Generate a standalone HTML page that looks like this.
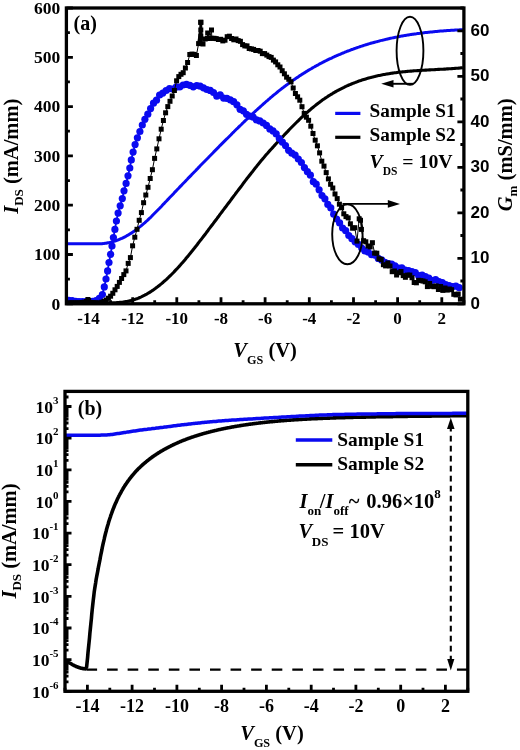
<!DOCTYPE html>
<html><head><meta charset="utf-8"><title>IDS and Gm vs VGS</title><style>html,body{margin:0;padding:0;background:#fff;overflow:hidden}svg{display:block}</style></head><body>
<svg width="520" height="750" viewBox="0 0 520 750">
<rect width="520" height="750" fill="#fff"/>
<defs><clipPath id="ca"><rect x="66.4" y="8.0" width="397.5" height="295.8"/></clipPath>
<clipPath id="cb"><rect x="65.0" y="391.4" width="402.8" height="299.9"/></clipPath></defs>
<g clip-path="url(#ca)">
<polyline points="67.4,243.8 68.4,243.8 69.4,243.8 70.4,243.8 71.4,243.8 72.4,243.8 73.3,243.8 74.3,243.8 75.3,243.8 76.3,243.8 77.3,243.8 78.3,243.8 79.3,243.8 80.3,243.8 81.3,243.8 82.3,243.8 83.3,243.8 84.3,243.8 85.2,243.8 86.2,243.8 87.2,243.8 88.2,243.8 89.2,243.8 90.2,243.8 91.2,243.8 92.2,243.8 93.2,243.8 94.2,243.8 95.2,243.8 96.1,243.8 97.1,243.8 98.1,243.8 99.1,243.8 100.1,243.8 101.1,243.8 102.1,243.7 103.1,243.6 104.1,243.4 105.1,243.3 106.1,243.2 107.0,243.0 108.0,242.8 109.0,242.6 110.0,242.4 111.0,242.2 112.0,241.9 113.0,241.6 114.0,241.3 115.0,241.0 116.0,240.7 117.0,240.3 118.0,240.0 118.9,239.6 119.9,239.2 120.9,238.7 121.9,238.3 122.9,237.8 123.9,237.3 124.9,236.8 125.9,236.3 126.9,235.7 127.9,235.2 128.9,234.6 129.8,234.0 130.8,233.4 131.8,232.7 132.8,232.1 133.8,231.4 134.8,230.7 135.8,230.0 136.8,229.2 137.8,228.5 138.8,227.7 139.8,226.9 140.8,226.1 141.7,225.3 142.7,224.5 143.7,223.6 144.7,222.8 145.7,221.9 146.7,221.0 147.7,220.1 148.7,219.1 149.7,218.2 150.7,217.3 151.7,216.3 152.6,215.3 153.6,214.3 154.6,213.3 155.6,212.3 156.6,211.3 157.6,210.3 158.6,209.3 159.6,208.3 160.6,207.2 161.6,206.2 162.6,205.1 163.5,204.1 164.5,203.1 165.5,202.0 166.5,201.0 167.5,199.9 168.5,198.9 169.5,197.8 170.5,196.8 171.5,195.8 172.5,194.7 173.5,193.7 174.5,192.6 175.4,191.6 176.4,190.6 177.4,189.5 178.4,188.5 179.4,187.4 180.4,186.4 181.4,185.4 182.4,184.3 183.4,183.3 184.4,182.3 185.4,181.2 186.3,180.2 187.3,179.2 188.3,178.1 189.3,177.1 190.3,176.1 191.3,175.1 192.3,174.0 193.3,173.0 194.3,172.0 195.3,171.0 196.3,169.9 197.3,168.9 198.2,167.9 199.2,166.9 200.2,165.8 201.2,164.8 202.2,163.8 203.2,162.8 204.2,161.8 205.2,160.7 206.2,159.7 207.2,158.7 208.2,157.7 209.1,156.7 210.1,155.7 211.1,154.7 212.1,153.7 213.1,152.7 214.1,151.6 215.1,150.6 216.1,149.6 217.1,148.6 218.1,147.6 219.1,146.6 220.0,145.6 221.0,144.6 222.0,143.6 223.0,142.6 224.0,141.6 225.0,140.6 226.0,139.6 227.0,138.7 228.0,137.7 229.0,136.7 230.0,135.7 231.0,134.7 231.9,133.7 232.9,132.7 233.9,131.8 234.9,130.8 235.9,129.8 236.9,128.8 237.9,127.9 238.9,126.9 239.9,125.9 240.9,125.0 241.9,124.0 242.8,123.0 243.8,122.1 244.8,121.1 245.8,120.2 246.8,119.2 247.8,118.3 248.8,117.3 249.8,116.4 250.8,115.5 251.8,114.5 252.8,113.6 253.8,112.7 254.7,111.8 255.7,110.9 256.7,110.0 257.7,109.1 258.7,108.2 259.7,107.3 260.7,106.4 261.7,105.5 262.7,104.6 263.7,103.7 264.7,102.8 265.6,102.0 266.6,101.1 267.6,100.3 268.6,99.4 269.6,98.6 270.6,97.7 271.6,96.9 272.6,96.0 273.6,95.2 274.6,94.4 275.6,93.6 276.5,92.8 277.5,92.0 278.5,91.2 279.5,90.4 280.5,89.6 281.5,88.8 282.5,88.1 283.5,87.3 284.5,86.6 285.5,85.8 286.5,85.1 287.5,84.3 288.4,83.6 289.4,82.9 290.4,82.2 291.4,81.5 292.4,80.8 293.4,80.1 294.4,79.4 295.4,78.7 296.4,78.0 297.4,77.4 298.4,76.7 299.3,76.0 300.3,75.4 301.3,74.7 302.3,74.1 303.3,73.5 304.3,72.9 305.3,72.2 306.3,71.6 307.3,71.0 308.3,70.4 309.3,69.8 310.3,69.2 311.2,68.7 312.2,68.1 313.2,67.5 314.2,67.0 315.2,66.4 316.2,65.9 317.2,65.3 318.2,64.8 319.2,64.2 320.2,63.7 321.2,63.2 322.1,62.7 323.1,62.2 324.1,61.6 325.1,61.1 326.1,60.7 327.1,60.2 328.1,59.7 329.1,59.2 330.1,58.7 331.1,58.3 332.1,57.8 333.0,57.3 334.0,56.9 335.0,56.4 336.0,56.0 337.0,55.5 338.0,55.1 339.0,54.7 340.0,54.3 341.0,53.8 342.0,53.4 343.0,53.0 344.0,52.6 344.9,52.2 345.9,51.8 346.9,51.4 347.9,51.0 348.9,50.7 349.9,50.3 350.9,49.9 351.9,49.5 352.9,49.2 353.9,48.8 354.9,48.5 355.8,48.1 356.8,47.8 357.8,47.4 358.8,47.1 359.8,46.7 360.8,46.4 361.8,46.1 362.8,45.8 363.8,45.4 364.8,45.1 365.8,44.8 366.8,44.5 367.7,44.2 368.7,43.9 369.7,43.6 370.7,43.3 371.7,43.0 372.7,42.8 373.7,42.5 374.7,42.2 375.7,41.9 376.7,41.7 377.7,41.4 378.6,41.2 379.6,40.9 380.6,40.6 381.6,40.4 382.6,40.2 383.6,39.9 384.6,39.7 385.6,39.4 386.6,39.2 387.6,39.0 388.6,38.8 389.5,38.5 390.5,38.3 391.5,38.1 392.5,37.9 393.5,37.7 394.5,37.5 395.5,37.3 396.5,37.1 397.5,36.9 398.5,36.7 399.5,36.5 400.5,36.3 401.4,36.1 402.4,36.0 403.4,35.8 404.4,35.6 405.4,35.5 406.4,35.3 407.4,35.1 408.4,35.0 409.4,34.8 410.4,34.6 411.4,34.5 412.3,34.3 413.3,34.2 414.3,34.0 415.3,33.9 416.3,33.8 417.3,33.6 418.3,33.5 419.3,33.4 420.3,33.2 421.3,33.1 422.3,33.0 423.3,32.9 424.2,32.7 425.2,32.6 426.2,32.5 427.2,32.4 428.2,32.3 429.2,32.2 430.2,32.1 431.2,32.0 432.2,31.9 433.2,31.8 434.2,31.7 435.1,31.6 436.1,31.5 437.1,31.4 438.1,31.3 439.1,31.2 440.1,31.1 441.1,31.1 442.1,31.0 443.1,30.9 444.1,30.8 445.1,30.7 446.0,30.7 447.0,30.6 448.0,30.5 449.0,30.5 450.0,30.4 451.0,30.3 452.0,30.3 453.0,30.2 454.0,30.2 455.0,30.1 456.0,30.0 457.0,30.0 457.9,29.9 458.9,29.9 459.9,29.8 460.9,29.8 461.9,29.7 462.9,29.7" fill="none" stroke="#0a0af0" stroke-width="3.0" stroke-linejoin="round"/>
<polyline points="67.4,303.3 68.4,303.3 69.4,303.3 70.4,303.3 71.4,303.3 72.4,303.3 73.3,303.3 74.3,303.3 75.3,303.3 76.3,303.3 77.3,303.3 78.3,303.3 79.3,303.3 80.3,303.3 81.3,303.3 82.3,303.3 83.3,303.3 84.3,303.3 85.2,303.3 86.2,303.3 87.2,303.3 88.2,303.3 89.2,303.3 90.2,303.3 91.2,303.3 92.2,303.3 93.2,303.3 94.2,303.3 95.2,303.3 96.1,303.3 97.1,303.3 98.1,303.3 99.1,303.3 100.1,303.2 101.1,303.1 102.1,303.1 103.1,303.1 104.1,303.1 105.1,303.1 106.1,303.1 107.0,303.0 108.0,303.0 109.0,303.0 110.0,302.9 111.0,302.9 112.0,302.9 113.0,302.8 114.0,302.8 115.0,302.7 116.0,302.7 117.0,302.6 118.0,302.6 118.9,302.5 119.9,302.4 120.9,302.3 121.9,302.2 122.9,302.1 123.9,301.9 124.9,301.8 125.9,301.6 126.9,301.5 127.9,301.3 128.9,301.1 129.8,300.8 130.8,300.6 131.8,300.3 132.8,300.1 133.8,299.8 134.8,299.4 135.8,299.1 136.8,298.7 137.8,298.4 138.8,298.0 139.8,297.5 140.8,297.1 141.7,296.7 142.7,296.2 143.7,295.7 144.7,295.2 145.7,294.6 146.7,294.1 147.7,293.5 148.7,292.9 149.7,292.3 150.7,291.7 151.7,291.0 152.6,290.4 153.6,289.7 154.6,289.0 155.6,288.3 156.6,287.5 157.6,286.8 158.6,286.0 159.6,285.2 160.6,284.4 161.6,283.6 162.6,282.8 163.5,281.9 164.5,281.0 165.5,280.2 166.5,279.3 167.5,278.3 168.5,277.4 169.5,276.4 170.5,275.5 171.5,274.5 172.5,273.5 173.5,272.5 174.5,271.4 175.4,270.4 176.4,269.3 177.4,268.3 178.4,267.2 179.4,266.1 180.4,265.0 181.4,263.8 182.4,262.7 183.4,261.6 184.4,260.4 185.4,259.2 186.3,258.0 187.3,256.9 188.3,255.7 189.3,254.4 190.3,253.2 191.3,252.0 192.3,250.8 193.3,249.5 194.3,248.3 195.3,247.0 196.3,245.8 197.3,244.5 198.2,243.2 199.2,241.9 200.2,240.6 201.2,239.4 202.2,238.1 203.2,236.8 204.2,235.5 205.2,234.2 206.2,232.9 207.2,231.5 208.2,230.2 209.1,228.9 210.1,227.6 211.1,226.3 212.1,225.0 213.1,223.7 214.1,222.3 215.1,221.0 216.1,219.7 217.1,218.4 218.1,217.0 219.1,215.7 220.0,214.4 221.0,213.1 222.0,211.8 223.0,210.4 224.0,209.1 225.0,207.8 226.0,206.5 227.0,205.1 228.0,203.8 229.0,202.5 230.0,201.2 231.0,199.8 231.9,198.5 232.9,197.2 233.9,195.9 234.9,194.6 235.9,193.2 236.9,191.9 237.9,190.6 238.9,189.3 239.9,188.0 240.9,186.7 241.9,185.4 242.8,184.1 243.8,182.7 244.8,181.4 245.8,180.1 246.8,178.8 247.8,177.6 248.8,176.3 249.8,175.0 250.8,173.7 251.8,172.4 252.8,171.2 253.8,169.9 254.7,168.7 255.7,167.4 256.7,166.2 257.7,164.9 258.7,163.7 259.7,162.5 260.7,161.3 261.7,160.1 262.7,158.9 263.7,157.8 264.7,156.6 265.6,155.4 266.6,154.3 267.6,153.2 268.6,152.0 269.6,150.9 270.6,149.8 271.6,148.7 272.6,147.6 273.6,146.5 274.6,145.4 275.6,144.3 276.5,143.3 277.5,142.2 278.5,141.1 279.5,140.0 280.5,139.0 281.5,137.9 282.5,136.8 283.5,135.8 284.5,134.7 285.5,133.7 286.5,132.6 287.5,131.6 288.4,130.6 289.4,129.5 290.4,128.5 291.4,127.5 292.4,126.5 293.4,125.5 294.4,124.5 295.4,123.5 296.4,122.5 297.4,121.5 298.4,120.6 299.3,119.6 300.3,118.7 301.3,117.7 302.3,116.8 303.3,115.9 304.3,115.0 305.3,114.0 306.3,113.1 307.3,112.3 308.3,111.4 309.3,110.5 310.3,109.7 311.2,108.8 312.2,108.0 313.2,107.2 314.2,106.4 315.2,105.6 316.2,104.8 317.2,104.0 318.2,103.2 319.2,102.5 320.2,101.7 321.2,101.0 322.1,100.3 323.1,99.6 324.1,98.9 325.1,98.2 326.1,97.6 327.1,96.9 328.1,96.2 329.1,95.6 330.1,95.0 331.1,94.4 332.1,93.8 333.0,93.2 334.0,92.6 335.0,92.0 336.0,91.5 337.0,90.9 338.0,90.4 339.0,89.8 340.0,89.3 341.0,88.8 342.0,88.3 343.0,87.8 344.0,87.3 344.9,86.8 345.9,86.4 346.9,85.9 347.9,85.5 348.9,85.0 349.9,84.6 350.9,84.2 351.9,83.8 352.9,83.4 353.9,83.0 354.9,82.6 355.8,82.2 356.8,81.9 357.8,81.5 358.8,81.1 359.8,80.8 360.8,80.5 361.8,80.1 362.8,79.8 363.8,79.5 364.8,79.2 365.8,78.9 366.8,78.6 367.7,78.3 368.7,78.0 369.7,77.7 370.7,77.5 371.7,77.2 372.7,77.0 373.7,76.7 374.7,76.5 375.7,76.2 376.7,76.0 377.7,75.8 378.6,75.6 379.6,75.4 380.6,75.2 381.6,75.0 382.6,74.8 383.6,74.6 384.6,74.4 385.6,74.2 386.6,74.0 387.6,73.9 388.6,73.7 389.5,73.6 390.5,73.4 391.5,73.3 392.5,73.1 393.5,73.0 394.5,72.8 395.5,72.7 396.5,72.6 397.5,72.4 398.5,72.3 399.5,72.2 400.5,72.1 401.4,72.0 402.4,71.9 403.4,71.8 404.4,71.7 405.4,71.6 406.4,71.5 407.4,71.4 408.4,71.3 409.4,71.2 410.4,71.1 411.4,71.1 412.3,71.0 413.3,70.9 414.3,70.8 415.3,70.8 416.3,70.7 417.3,70.6 418.3,70.6 419.3,70.5 420.3,70.4 421.3,70.4 422.3,70.3 423.3,70.2 424.2,70.2 425.2,70.1 426.2,70.1 427.2,70.0 428.2,70.0 429.2,69.9 430.2,69.9 431.2,69.8 432.2,69.8 433.2,69.7 434.2,69.7 435.1,69.6 436.1,69.5 437.1,69.5 438.1,69.4 439.1,69.4 440.1,69.3 441.1,69.3 442.1,69.2 443.1,69.2 444.1,69.1 445.1,69.1 446.0,69.0 447.0,68.9 448.0,68.9 449.0,68.8 450.0,68.8 451.0,68.7 452.0,68.6 453.0,68.5 454.0,68.5 455.0,68.4 456.0,68.3 457.0,68.2 457.9,68.2 458.9,68.1 459.9,68.0 460.9,67.9 461.9,67.8 462.9,67.7" fill="none" stroke="#000" stroke-width="3.1" stroke-linejoin="round"/>
<polyline points="68.8,300.4 72.2,300.7 75.6,301.4 79.0,301.5 82.4,301.5 85.8,301.5 89.2,301.5 92.6,301.4 96.0,300.6 99.3,298.3 102.4,294.5 104.3,286.9 106.0,279.0 107.6,270.9 109.0,262.5 110.6,254.3 112.0,246.0 113.4,237.6 114.9,229.4 116.4,221.0 118.1,213.1 120.2,205.8 122.3,198.6 124.0,190.8 126.1,183.4 128.0,175.8 129.8,168.0 131.3,159.9 133.1,152.1 135.1,144.6 137.4,137.8 139.9,131.5 142.3,125.0 144.9,119.3 147.8,114.2 150.6,109.1 153.5,104.1 156.5,99.8 159.6,96.1 162.8,93.0 166.1,90.9 169.5,89.7 172.9,89.0 176.3,88.1 179.7,87.2 183.1,86.2 186.5,85.5 189.9,85.5 193.3,85.9 196.7,86.5 200.1,87.0 203.5,87.4 206.9,88.3 210.2,90.2 213.5,92.8 216.8,94.9 220.2,96.1 223.6,97.2 226.9,98.9 230.3,100.7 233.6,102.7 236.9,105.3 240.1,108.4 243.3,111.6 246.5,114.1 249.9,115.8 253.2,117.6 256.5,119.7 259.8,122.1 263.2,124.2 266.5,126.2 269.8,128.5 273.0,131.1 276.2,134.4 279.3,138.3 282.4,142.3 285.5,146.1 288.6,149.5 291.8,152.7 295.1,155.7 298.3,158.8 301.4,162.4 304.4,166.6 307.4,171.1 310.4,175.7 313.3,180.4 316.2,185.2 319.1,190.1 322.0,194.9 324.9,199.7 327.8,204.4 330.8,209.1 333.7,213.8 336.6,218.3 339.6,222.8 342.6,227.1 345.7,231.2 348.8,235.0 351.9,238.5 355.1,241.6 358.4,244.5 361.7,247.2 364.9,249.8 368.2,252.2 371.6,254.3 374.9,256.2 378.3,257.9 381.6,259.5 385.0,261.1 388.3,262.8 391.7,264.5 395.0,266.2 398.4,267.7 401.8,269.1 405.2,270.3 408.5,271.5 411.9,272.6 415.3,273.8 418.7,275.0 422.1,276.2 425.4,277.3 428.8,278.5 432.2,279.6 435.6,280.6 439.0,281.6 442.3,282.6 445.7,283.6 449.1,284.6 452.5,285.7 455.9,286.8 459.2,287.9" fill="none" stroke="#0a0af0" stroke-width="1.8"/>
<g fill="#0a0af0"><circle cx="68.8" cy="300.4" r="3.6"/><circle cx="72.2" cy="300.7" r="3.6"/><circle cx="75.6" cy="301.4" r="3.6"/><circle cx="79.0" cy="301.5" r="3.6"/><circle cx="82.4" cy="301.5" r="3.6"/><circle cx="85.8" cy="301.5" r="3.6"/><circle cx="89.2" cy="301.5" r="3.6"/><circle cx="92.6" cy="301.4" r="3.6"/><circle cx="96.0" cy="300.6" r="3.6"/><circle cx="99.3" cy="298.3" r="3.6"/><circle cx="102.4" cy="294.5" r="3.6"/><circle cx="104.3" cy="286.9" r="3.6"/><circle cx="106.0" cy="279.0" r="3.6"/><circle cx="107.6" cy="270.9" r="3.6"/><circle cx="109.0" cy="262.5" r="3.6"/><circle cx="110.6" cy="254.3" r="3.6"/><circle cx="112.0" cy="246.0" r="3.6"/><circle cx="113.4" cy="237.6" r="3.6"/><circle cx="114.9" cy="229.4" r="3.6"/><circle cx="116.4" cy="221.0" r="3.6"/><circle cx="118.1" cy="213.1" r="3.6"/><circle cx="120.2" cy="205.8" r="3.6"/><circle cx="122.3" cy="198.6" r="3.6"/><circle cx="124.0" cy="190.8" r="3.6"/><circle cx="126.1" cy="183.4" r="3.6"/><circle cx="128.0" cy="175.8" r="3.6"/><circle cx="129.8" cy="168.0" r="3.6"/><circle cx="131.3" cy="159.9" r="3.6"/><circle cx="133.1" cy="152.1" r="3.6"/><circle cx="135.1" cy="144.6" r="3.6"/><circle cx="137.4" cy="137.8" r="3.6"/><circle cx="139.9" cy="131.5" r="3.6"/><circle cx="142.3" cy="125.0" r="3.6"/><circle cx="144.9" cy="119.3" r="3.6"/><circle cx="147.8" cy="114.2" r="3.6"/><circle cx="150.6" cy="108.6" r="3.6"/><circle cx="153.5" cy="103.2" r="3.6"/><circle cx="156.5" cy="100.2" r="3.6"/><circle cx="159.6" cy="95.0" r="3.6"/><circle cx="162.8" cy="93.1" r="3.6"/><circle cx="166.1" cy="90.5" r="3.6"/><circle cx="169.5" cy="88.6" r="3.6"/><circle cx="172.9" cy="89.0" r="3.6"/><circle cx="176.3" cy="86.9" r="3.6"/><circle cx="179.7" cy="87.0" r="3.6"/><circle cx="183.1" cy="85.0" r="3.6"/><circle cx="186.5" cy="84.4" r="3.6"/><circle cx="189.9" cy="85.3" r="3.6"/><circle cx="193.3" cy="86.8" r="3.6"/><circle cx="196.7" cy="85.5" r="3.6"/><circle cx="200.1" cy="86.2" r="3.6"/><circle cx="203.5" cy="87.8" r="3.6"/><circle cx="206.9" cy="89.5" r="3.6"/><circle cx="210.2" cy="90.4" r="3.6"/><circle cx="213.5" cy="92.5" r="3.6"/><circle cx="216.8" cy="96.2" r="3.6"/><circle cx="220.2" cy="94.9" r="3.6"/><circle cx="223.6" cy="98.1" r="3.6"/><circle cx="226.9" cy="98.3" r="3.6"/><circle cx="230.3" cy="99.8" r="3.6"/><circle cx="233.6" cy="101.7" r="3.6"/><circle cx="236.9" cy="104.8" r="3.6"/><circle cx="240.1" cy="109.3" r="3.6"/><circle cx="243.3" cy="110.8" r="3.6"/><circle cx="246.5" cy="114.3" r="3.6"/><circle cx="249.9" cy="116.2" r="3.6"/><circle cx="253.2" cy="117.2" r="3.6"/><circle cx="256.5" cy="119.9" r="3.6"/><circle cx="259.8" cy="120.9" r="3.6"/><circle cx="263.2" cy="123.0" r="3.6"/><circle cx="266.5" cy="125.4" r="3.6"/><circle cx="269.8" cy="128.9" r="3.6"/><circle cx="273.0" cy="130.9" r="3.6"/><circle cx="276.2" cy="133.9" r="3.6"/><circle cx="279.3" cy="138.5" r="3.6"/><circle cx="282.4" cy="142.2" r="3.6"/><circle cx="285.5" cy="145.6" r="3.6"/><circle cx="288.6" cy="150.3" r="3.6"/><circle cx="291.8" cy="153.2" r="3.6"/><circle cx="295.1" cy="155.1" r="3.6"/><circle cx="298.3" cy="159.0" r="3.6"/><circle cx="301.4" cy="162.5" r="3.6"/><circle cx="304.4" cy="167.6" r="3.6"/><circle cx="307.4" cy="171.7" r="3.6"/><circle cx="310.4" cy="175.2" r="3.6"/><circle cx="313.3" cy="181.7" r="3.6"/><circle cx="316.2" cy="184.2" r="3.6"/><circle cx="319.1" cy="189.8" r="3.6"/><circle cx="322.0" cy="195.5" r="3.6"/><circle cx="324.9" cy="198.8" r="3.6"/><circle cx="327.8" cy="204.4" r="3.6"/><circle cx="330.8" cy="207.9" r="3.6"/><circle cx="333.7" cy="214.2" r="3.6"/><circle cx="336.6" cy="219.0" r="3.6"/><circle cx="339.6" cy="222.9" r="3.6"/><circle cx="342.6" cy="228.0" r="3.6"/><circle cx="345.7" cy="230.7" r="3.6"/><circle cx="348.8" cy="235.5" r="3.6"/><circle cx="351.9" cy="238.7" r="3.6"/><circle cx="355.1" cy="241.8" r="3.6"/><circle cx="358.4" cy="244.4" r="3.6"/><circle cx="361.7" cy="248.1" r="3.6"/><circle cx="364.9" cy="250.9" r="3.6"/><circle cx="368.2" cy="252.1" r="3.6"/><circle cx="371.6" cy="254.7" r="3.6"/><circle cx="374.9" cy="255.1" r="3.6"/><circle cx="378.3" cy="258.4" r="3.6"/><circle cx="381.6" cy="259.9" r="3.6"/><circle cx="385.0" cy="262.4" r="3.6"/><circle cx="388.3" cy="263.7" r="3.6"/><circle cx="391.7" cy="264.0" r="3.6"/><circle cx="395.0" cy="265.9" r="3.6"/><circle cx="398.4" cy="268.2" r="3.6"/><circle cx="401.8" cy="267.8" r="3.6"/><circle cx="405.2" cy="270.2" r="3.6"/><circle cx="408.5" cy="270.6" r="3.6"/><circle cx="411.9" cy="271.7" r="3.6"/><circle cx="415.3" cy="272.7" r="3.6"/><circle cx="418.7" cy="275.7" r="3.6"/><circle cx="422.1" cy="275.2" r="3.6"/><circle cx="425.4" cy="276.7" r="3.6"/><circle cx="428.8" cy="278.2" r="3.6"/><circle cx="432.2" cy="280.5" r="3.6"/><circle cx="435.6" cy="279.5" r="3.6"/><circle cx="439.0" cy="281.5" r="3.6"/><circle cx="442.3" cy="282.7" r="3.6"/><circle cx="445.7" cy="284.6" r="3.6"/><circle cx="449.1" cy="285.5" r="3.6"/><circle cx="452.5" cy="286.6" r="3.6"/><circle cx="455.9" cy="286.2" r="3.6"/><circle cx="459.2" cy="287.7" r="3.6"/></g>
<polyline points="68.8,302.8 71.0,302.8 73.2,302.8 75.4,302.8 77.6,302.8 79.8,302.8 82.0,302.5 84.2,302.2 86.4,301.5 87.9,299.5 88.6,300.5 90.8,302.5 93.0,302.6 95.2,302.8 97.4,302.9 99.6,303.0 101.8,302.2 104.0,301.3 106.2,300.1 108.4,298.2 110.6,296.2 112.8,293.3 115.0,289.8 117.2,286.4 119.4,282.4 121.6,278.5 123.8,274.6 126.0,270.9 128.2,263.4 130.4,257.6 132.6,245.8 134.8,237.2 137.0,229.3 139.2,220.3 141.4,212.6 143.6,202.7 145.8,195.0 148.0,187.3 150.2,178.5 152.4,169.7 154.6,158.4 156.8,148.9 159.0,138.8 161.2,129.2 163.4,120.5 165.6,112.8 167.8,106.6 170.0,101.3 172.2,96.0 174.4,90.5 176.6,80.8 178.8,76.6 181.0,74.3 183.2,72.7 185.4,68.0 187.6,62.5 189.8,54.5 192.0,54.1 194.2,54.4 196.4,55.5 198.6,43.6 200.8,22.3 200.8,30.0 200.8,36.0 200.8,22.3 203.0,44.0 205.2,39.0 207.4,38.5 207.7,33.0 209.6,38.3 211.5,30.0 211.8,38.3 214.0,38.3 216.2,38.6 218.4,39.5 220.6,39.3 222.8,40.9 225.0,40.2 227.2,36.7 229.4,36.2 231.6,38.5 233.8,39.8 236.0,39.0 238.2,40.6 240.4,41.3 242.6,44.6 244.8,45.9 247.0,45.9 249.2,48.5 251.4,48.9 253.6,49.4 255.8,50.5 258.0,50.5 260.2,51.2 262.4,53.6 264.6,53.6 266.8,55.1 269.0,56.6 271.2,57.4 273.4,60.1 275.6,61.9 277.8,64.8 280.0,67.0 282.2,70.7 284.4,73.8 286.6,77.2 288.8,79.3 291.0,81.8 293.2,88.0 295.4,93.5 297.6,96.8 299.8,100.2 302.0,106.7 304.2,113.4 306.4,117.2 308.6,120.3 310.8,126.2 313.0,133.5 315.2,140.2 317.4,145.8 319.6,152.9 321.8,161.2 324.0,166.1 326.2,172.6 328.4,178.9 330.6,184.3 332.8,188.0 335.0,194.0 337.2,198.6 339.4,204.2 341.6,207.8 343.8,213.8 346.0,216.6 348.2,217.9 350.4,223.8 352.6,228.2 354.8,227.7 357.0,241.1 359.2,218.8 360.5,220.3 361.4,229.4 363.6,240.7 365.8,241.8 368.0,246.0 370.2,246.9 372.4,242.7 374.6,253.1 376.8,253.2 379.0,258.7 381.2,259.5 383.4,264.7 385.6,265.9 387.8,263.0 390.0,266.0 392.2,271.7 394.4,271.0 396.6,275.0 398.8,272.7 401.0,271.5 403.2,275.6 405.4,277.3 407.6,275.1 409.8,275.1 412.0,277.7 414.2,282.5 416.4,282.8 418.6,280.3 420.8,280.6 423.0,281.0 425.2,281.8 427.4,286.6 429.6,283.5 431.8,286.3 434.0,286.7 436.2,285.9 438.4,289.5 440.6,286.5 442.8,290.4 445.0,288.0 447.2,290.1 449.4,289.0 451.6,289.7 453.8,294.3 456.0,294.9 458.2,294.0 460.4,299.2" fill="none" stroke="#000" stroke-width="1.0"/>
<path d="M200.8,22.3V44 M198.5,44.6L200.8,30" stroke="#000" stroke-width="3" fill="none"/>
<g fill="#000"><rect x="66.3" y="300.3" width="5" height="5"/><rect x="68.5" y="300.3" width="5" height="5"/><rect x="70.7" y="300.3" width="5" height="5"/><rect x="72.9" y="300.3" width="5" height="5"/><rect x="75.1" y="300.3" width="5" height="5"/><rect x="77.3" y="300.3" width="5" height="5"/><rect x="79.5" y="300.0" width="5" height="5"/><rect x="81.7" y="299.7" width="5" height="5"/><rect x="83.9" y="299.0" width="5" height="5"/><rect x="85.4" y="297.0" width="5" height="5"/><rect x="86.1" y="298.0" width="5" height="5"/><rect x="88.3" y="300.0" width="5" height="5"/><rect x="90.5" y="300.1" width="5" height="5"/><rect x="92.7" y="300.3" width="5" height="5"/><rect x="94.9" y="300.4" width="5" height="5"/><rect x="97.1" y="300.5" width="5" height="5"/><rect x="99.3" y="299.7" width="5" height="5"/><rect x="101.5" y="298.8" width="5" height="5"/><rect x="103.7" y="297.6" width="5" height="5"/><rect x="105.9" y="295.7" width="5" height="5"/><rect x="108.1" y="293.7" width="5" height="5"/><rect x="110.3" y="290.8" width="5" height="5"/><rect x="112.5" y="287.3" width="5" height="5"/><rect x="114.7" y="283.9" width="5" height="5"/><rect x="116.9" y="279.9" width="5" height="5"/><rect x="119.1" y="276.0" width="5" height="5"/><rect x="121.3" y="272.1" width="5" height="5"/><rect x="123.5" y="268.4" width="5" height="5"/><rect x="125.7" y="260.9" width="5" height="5"/><rect x="127.9" y="255.1" width="5" height="5"/><rect x="130.1" y="243.3" width="5" height="5"/><rect x="132.3" y="234.7" width="5" height="5"/><rect x="134.5" y="226.8" width="5" height="5"/><rect x="136.7" y="217.8" width="5" height="5"/><rect x="138.9" y="210.1" width="5" height="5"/><rect x="141.1" y="200.2" width="5" height="5"/><rect x="143.3" y="192.5" width="5" height="5"/><rect x="145.5" y="184.8" width="5" height="5"/><rect x="147.7" y="176.0" width="5" height="5"/><rect x="149.9" y="167.2" width="5" height="5"/><rect x="152.1" y="155.9" width="5" height="5"/><rect x="154.3" y="146.4" width="5" height="5"/><rect x="156.5" y="136.3" width="5" height="5"/><rect x="158.7" y="126.7" width="5" height="5"/><rect x="160.9" y="118.0" width="5" height="5"/><rect x="163.1" y="110.3" width="5" height="5"/><rect x="165.3" y="104.1" width="5" height="5"/><rect x="167.5" y="98.8" width="5" height="5"/><rect x="169.7" y="93.5" width="5" height="5"/><rect x="171.9" y="88.0" width="5" height="5"/><rect x="174.1" y="78.3" width="5" height="5"/><rect x="176.3" y="74.1" width="5" height="5"/><rect x="178.5" y="71.8" width="5" height="5"/><rect x="180.7" y="70.2" width="5" height="5"/><rect x="182.9" y="65.5" width="5" height="5"/><rect x="185.1" y="60.0" width="5" height="5"/><rect x="187.3" y="52.0" width="5" height="5"/><rect x="189.5" y="51.6" width="5" height="5"/><rect x="191.7" y="51.9" width="5" height="5"/><rect x="193.9" y="53.0" width="5" height="5"/><rect x="196.1" y="41.1" width="5" height="5"/><rect x="198.3" y="19.8" width="5" height="5"/><rect x="198.3" y="27.5" width="5" height="5"/><rect x="198.3" y="33.5" width="5" height="5"/><rect x="198.3" y="19.8" width="5" height="5"/><rect x="200.5" y="41.5" width="5" height="5"/><rect x="202.7" y="36.5" width="5" height="5"/><rect x="204.9" y="36.0" width="5" height="5"/><rect x="205.2" y="30.5" width="5" height="5"/><rect x="207.1" y="35.8" width="5" height="5"/><rect x="209.0" y="27.5" width="5" height="5"/><rect x="209.3" y="35.8" width="5" height="5"/><rect x="211.5" y="35.8" width="5" height="5"/><rect x="213.7" y="36.1" width="5" height="5"/><rect x="215.9" y="37.0" width="5" height="5"/><rect x="218.1" y="36.8" width="5" height="5"/><rect x="220.3" y="38.4" width="5" height="5"/><rect x="222.5" y="37.7" width="5" height="5"/><rect x="224.7" y="34.2" width="5" height="5"/><rect x="226.9" y="33.7" width="5" height="5"/><rect x="229.1" y="36.0" width="5" height="5"/><rect x="231.3" y="37.3" width="5" height="5"/><rect x="233.5" y="36.5" width="5" height="5"/><rect x="235.7" y="38.1" width="5" height="5"/><rect x="237.9" y="38.8" width="5" height="5"/><rect x="240.1" y="42.1" width="5" height="5"/><rect x="242.3" y="43.4" width="5" height="5"/><rect x="244.5" y="43.4" width="5" height="5"/><rect x="246.7" y="46.0" width="5" height="5"/><rect x="248.9" y="46.4" width="5" height="5"/><rect x="251.1" y="46.9" width="5" height="5"/><rect x="253.3" y="48.0" width="5" height="5"/><rect x="255.5" y="48.0" width="5" height="5"/><rect x="257.7" y="48.7" width="5" height="5"/><rect x="259.9" y="51.1" width="5" height="5"/><rect x="262.1" y="51.1" width="5" height="5"/><rect x="264.3" y="52.6" width="5" height="5"/><rect x="266.5" y="54.1" width="5" height="5"/><rect x="268.7" y="54.9" width="5" height="5"/><rect x="270.9" y="57.6" width="5" height="5"/><rect x="273.1" y="59.4" width="5" height="5"/><rect x="275.3" y="62.3" width="5" height="5"/><rect x="277.5" y="64.5" width="5" height="5"/><rect x="279.7" y="68.2" width="5" height="5"/><rect x="281.9" y="71.3" width="5" height="5"/><rect x="284.1" y="74.7" width="5" height="5"/><rect x="286.3" y="76.8" width="5" height="5"/><rect x="288.5" y="79.3" width="5" height="5"/><rect x="290.7" y="85.5" width="5" height="5"/><rect x="292.9" y="91.0" width="5" height="5"/><rect x="295.1" y="94.3" width="5" height="5"/><rect x="297.3" y="97.7" width="5" height="5"/><rect x="299.5" y="104.2" width="5" height="5"/><rect x="301.7" y="110.9" width="5" height="5"/><rect x="303.9" y="114.7" width="5" height="5"/><rect x="306.1" y="117.8" width="5" height="5"/><rect x="308.3" y="123.7" width="5" height="5"/><rect x="310.5" y="131.0" width="5" height="5"/><rect x="312.7" y="137.7" width="5" height="5"/><rect x="314.9" y="143.3" width="5" height="5"/><rect x="317.1" y="150.4" width="5" height="5"/><rect x="319.3" y="158.7" width="5" height="5"/><rect x="321.5" y="163.6" width="5" height="5"/><rect x="323.7" y="170.1" width="5" height="5"/><rect x="325.9" y="176.4" width="5" height="5"/><rect x="328.1" y="181.8" width="5" height="5"/><rect x="330.3" y="185.5" width="5" height="5"/><rect x="332.5" y="191.5" width="5" height="5"/><rect x="334.7" y="196.1" width="5" height="5"/><rect x="336.9" y="201.7" width="5" height="5"/><rect x="339.1" y="205.3" width="5" height="5"/><rect x="341.3" y="211.3" width="5" height="5"/><rect x="343.5" y="214.1" width="5" height="5"/><rect x="345.7" y="215.4" width="5" height="5"/><rect x="347.9" y="221.3" width="5" height="5"/><rect x="350.1" y="225.7" width="5" height="5"/><rect x="352.3" y="225.2" width="5" height="5"/><rect x="354.5" y="238.6" width="5" height="5"/><rect x="356.7" y="216.3" width="5" height="5"/><rect x="358.0" y="217.8" width="5" height="5"/><rect x="358.9" y="226.9" width="5" height="5"/><rect x="361.1" y="238.2" width="5" height="5"/><rect x="363.3" y="239.3" width="5" height="5"/><rect x="365.5" y="243.5" width="5" height="5"/><rect x="367.7" y="244.4" width="5" height="5"/><rect x="369.9" y="240.2" width="5" height="5"/><rect x="372.1" y="250.6" width="5" height="5"/><rect x="374.3" y="250.7" width="5" height="5"/><rect x="376.5" y="256.2" width="5" height="5"/><rect x="378.7" y="257.0" width="5" height="5"/><rect x="380.9" y="262.2" width="5" height="5"/><rect x="383.1" y="263.4" width="5" height="5"/><rect x="385.3" y="260.5" width="5" height="5"/><rect x="387.5" y="263.5" width="5" height="5"/><rect x="389.7" y="269.2" width="5" height="5"/><rect x="391.9" y="268.5" width="5" height="5"/><rect x="394.1" y="272.5" width="5" height="5"/><rect x="396.3" y="270.2" width="5" height="5"/><rect x="398.5" y="269.0" width="5" height="5"/><rect x="400.7" y="273.1" width="5" height="5"/><rect x="402.9" y="274.8" width="5" height="5"/><rect x="405.1" y="272.6" width="5" height="5"/><rect x="407.3" y="272.6" width="5" height="5"/><rect x="409.5" y="275.2" width="5" height="5"/><rect x="411.7" y="280.0" width="5" height="5"/><rect x="413.9" y="280.3" width="5" height="5"/><rect x="416.1" y="277.8" width="5" height="5"/><rect x="418.3" y="278.1" width="5" height="5"/><rect x="420.5" y="278.5" width="5" height="5"/><rect x="422.7" y="279.3" width="5" height="5"/><rect x="424.9" y="284.1" width="5" height="5"/><rect x="427.1" y="281.0" width="5" height="5"/><rect x="429.3" y="283.8" width="5" height="5"/><rect x="431.5" y="284.2" width="5" height="5"/><rect x="433.7" y="283.4" width="5" height="5"/><rect x="435.9" y="287.0" width="5" height="5"/><rect x="438.1" y="284.0" width="5" height="5"/><rect x="440.3" y="287.9" width="5" height="5"/><rect x="442.5" y="285.5" width="5" height="5"/><rect x="444.7" y="287.6" width="5" height="5"/><rect x="446.9" y="286.5" width="5" height="5"/><rect x="449.1" y="287.2" width="5" height="5"/><rect x="451.3" y="291.8" width="5" height="5"/><rect x="453.5" y="292.4" width="5" height="5"/><rect x="455.7" y="291.5" width="5" height="5"/><rect x="457.9" y="296.7" width="5" height="5"/></g>
</g>
<rect x="66.4" y="8.0" width="397.5" height="295.8" fill="none" stroke="#000" stroke-width="3.3"/>
<path d="M66.4,303.8v-3.5M88.5,303.8v-6.5M110.6,303.8v-3.5M132.7,303.8v-6.5M154.7,303.8v-3.5M176.8,303.8v-6.5M198.9,303.8v-3.5M221.0,303.8v-6.5M243.1,303.8v-3.5M265.1,303.8v-6.5M287.2,303.8v-3.5M309.3,303.8v-6.5M331.4,303.8v-3.5M353.5,303.8v-6.5M375.6,303.8v-3.5M397.6,303.8v-6.5M419.7,303.8v-3.5M441.8,303.8v-6.5M463.9,303.8v-3.5M66.4,303.8h6.5M66.4,279.2h3.5M66.4,254.5h6.5M66.4,229.9h3.5M66.4,205.2h6.5M66.4,180.6h3.5M66.4,155.9h6.5M66.4,131.2h3.5M66.4,106.6h6.5M66.4,81.9h3.5M66.4,57.3h6.5M66.4,32.7h3.5M66.4,8.0h6.5M463.9,303.8h-6.5M463.9,281.0h-3.5M463.9,258.3h-6.5M463.9,235.5h-3.5M463.9,212.8h-6.5M463.9,190.0h-3.5M463.9,167.3h-6.5M463.9,144.5h-3.5M463.9,121.8h-6.5M463.9,99.0h-3.5M463.9,76.3h-6.5M463.9,53.5h-3.5M463.9,30.8h-6.5M463.9,8.0h-3.5" stroke="#000" stroke-width="2.8" fill="none"/>
<text x="60.3" y="309.6" text-anchor="end" style="font-family:'Liberation Serif','Times New Roman',serif;font-weight:bold;font-size:17.5px">0</text>
<text x="60.3" y="260.3" text-anchor="end" style="font-family:'Liberation Serif','Times New Roman',serif;font-weight:bold;font-size:17.5px">100</text>
<text x="60.3" y="211.0" text-anchor="end" style="font-family:'Liberation Serif','Times New Roman',serif;font-weight:bold;font-size:17.5px">200</text>
<text x="60.3" y="161.7" text-anchor="end" style="font-family:'Liberation Serif','Times New Roman',serif;font-weight:bold;font-size:17.5px">300</text>
<text x="60.3" y="112.4" text-anchor="end" style="font-family:'Liberation Serif','Times New Roman',serif;font-weight:bold;font-size:17.5px">400</text>
<text x="60.3" y="63.1" text-anchor="end" style="font-family:'Liberation Serif','Times New Roman',serif;font-weight:bold;font-size:17.5px">500</text>
<text x="60.3" y="13.8" text-anchor="end" style="font-family:'Liberation Serif','Times New Roman',serif;font-weight:bold;font-size:17.5px">600</text>
<text x="470.5" y="308.6" style="font-family:'Liberation Sans',Arial,sans-serif;font-weight:bold;font-size:17px">0</text>
<text x="470.5" y="263.1" style="font-family:'Liberation Sans',Arial,sans-serif;font-weight:bold;font-size:17px">10</text>
<text x="470.5" y="217.6" style="font-family:'Liberation Sans',Arial,sans-serif;font-weight:bold;font-size:17px">20</text>
<text x="470.5" y="172.1" style="font-family:'Liberation Sans',Arial,sans-serif;font-weight:bold;font-size:17px">30</text>
<text x="470.5" y="126.6" style="font-family:'Liberation Sans',Arial,sans-serif;font-weight:bold;font-size:17px">40</text>
<text x="470.5" y="81.1" style="font-family:'Liberation Sans',Arial,sans-serif;font-weight:bold;font-size:17px">50</text>
<text x="470.5" y="35.6" style="font-family:'Liberation Sans',Arial,sans-serif;font-weight:bold;font-size:17px">60</text>
<text x="88.5" y="323.8" text-anchor="middle" style="font-family:'Liberation Serif','Times New Roman',serif;font-weight:bold;font-size:17px">-14</text>
<text x="132.7" y="323.8" text-anchor="middle" style="font-family:'Liberation Serif','Times New Roman',serif;font-weight:bold;font-size:17px">-12</text>
<text x="176.8" y="323.8" text-anchor="middle" style="font-family:'Liberation Serif','Times New Roman',serif;font-weight:bold;font-size:17px">-10</text>
<text x="221.0" y="323.8" text-anchor="middle" style="font-family:'Liberation Serif','Times New Roman',serif;font-weight:bold;font-size:17px">-8</text>
<text x="265.1" y="323.8" text-anchor="middle" style="font-family:'Liberation Serif','Times New Roman',serif;font-weight:bold;font-size:17px">-6</text>
<text x="309.3" y="323.8" text-anchor="middle" style="font-family:'Liberation Serif','Times New Roman',serif;font-weight:bold;font-size:17px">-4</text>
<text x="353.5" y="323.8" text-anchor="middle" style="font-family:'Liberation Serif','Times New Roman',serif;font-weight:bold;font-size:17px">-2</text>
<text x="397.6" y="323.8" text-anchor="middle" style="font-family:'Liberation Serif','Times New Roman',serif;font-weight:bold;font-size:17px">0</text>
<text x="441.8" y="323.8" text-anchor="middle" style="font-family:'Liberation Serif','Times New Roman',serif;font-weight:bold;font-size:17px">2</text>
<text x="73.6" y="30" style="font-family:'Liberation Serif','Times New Roman',serif;font-weight:bold;font-size:20px">(a)</text>
<text x="233.3" y="357.2" style="font-family:'Liberation Serif','Times New Roman',serif;font-weight:bold;font-size:20.5px"><tspan font-style="italic">V</tspan><tspan font-size="12.2px" dy="7.2">GS</tspan><tspan dy="-7.2"> (V)</tspan></text>
<text transform="translate(18,213.8) rotate(-90)" style="font-family:'Liberation Serif','Times New Roman',serif;font-weight:bold;font-size:20.5px"><tspan font-style="italic">I</tspan><tspan font-size="13px" dy="5">DS</tspan><tspan dy="-5"> (mA/mm)</tspan></text>
<text transform="translate(511.5,211.2) rotate(-90)" style="font-family:'Liberation Serif','Times New Roman',serif;font-weight:bold;font-size:20.5px"><tspan font-style="italic">G</tspan><tspan font-size="13px" dy="5">m</tspan><tspan dy="-5"> (mS/mm)</tspan></text>
<line x1="335.2" y1="113.4" x2="360.4" y2="113.4" stroke="#0a0af0" stroke-width="3.2"/>
<line x1="335.2" y1="137.3" x2="360.4" y2="137.3" stroke="#000" stroke-width="3.2"/>
<text x="369.6" y="116.8" style="font-family:'Liberation Serif','Times New Roman',serif;font-weight:bold;font-size:19.25px">Sample S1</text>
<text x="369.6" y="141.2" style="font-family:'Liberation Serif','Times New Roman',serif;font-weight:bold;font-size:19.25px">Sample S2</text>
<text x="369.5" y="167.7" style="font-family:'Liberation Serif','Times New Roman',serif;font-weight:bold;font-size:19.8px"><tspan font-style="italic">V</tspan><tspan font-size="11.5px" dy="7.5">DS</tspan><tspan dy="-7.5"> = 10V</tspan></text>
<ellipse cx="410" cy="50.8" rx="13.4" ry="34" fill="none" stroke="#000" stroke-width="1.9"/>
<line x1="413" y1="83.8" x2="388" y2="83.8" stroke="#000" stroke-width="1.9"/>
<path d="M381.2,83.8 L393.5,80.0 L393.5,87.6 Z" fill="#000"/>
<ellipse cx="347.4" cy="234.3" rx="15.2" ry="30" fill="none" stroke="#000" stroke-width="1.9"/>
<line x1="342.5" y1="203.9" x2="390" y2="203.9" stroke="#000" stroke-width="1.9"/>
<path d="M400,203.9 L387.8,200.1 L387.8,207.7 Z" fill="#000"/>
<g clip-path="url(#cb)">
<polyline points="65.0,661.3 65.7,661.5 66.4,661.7 67.1,662.0 67.8,662.2 68.5,662.5 69.2,662.8 69.9,663.1 70.6,663.5 71.3,663.9 72.0,664.4 72.7,664.8 73.4,665.1 74.1,665.5 74.8,665.8 75.5,666.2 76.2,666.5 76.9,666.8 77.6,667.0 78.3,667.3 79.0,667.5 79.7,667.8 80.4,668.0 81.1,668.2 81.8,668.3 82.5,668.5 83.2,668.6 83.9,668.7 84.6,668.8 85.3,668.9 85.3,668.9 86.6,667.0 87.1,662.3 87.6,657.5 88.0,652.7 88.5,647.8 89.0,642.9 89.5,638.0 89.9,633.1 90.4,628.3 90.9,623.4 91.4,618.6 91.8,613.7 92.3,608.9 92.8,604.3 93.3,599.9 93.8,595.8 94.2,592.1 94.7,588.7 95.2,585.6 95.7,582.6 96.1,579.7 96.6,577.0 97.1,574.4 97.6,571.8 98.1,569.2 98.5,566.8 99.0,564.3 99.5,561.8 100.0,559.4 100.4,557.0 100.9,554.5 101.4,552.1 101.9,549.7 102.3,547.4 102.8,545.1 103.3,542.9 103.8,540.8 104.3,538.7 104.7,536.7 105.2,534.7 105.7,532.8 106.2,531.0 106.6,529.2 107.1,527.5 107.6,525.8 108.1,524.2 108.5,522.6 109.0,521.0 109.5,519.5 110.0,518.0 110.5,516.6 110.9,515.2 111.4,513.9 111.9,512.5 112.4,511.2 112.8,510.0 113.3,508.7 113.8,507.5 114.3,506.3 114.7,505.2 115.2,504.1 115.7,503.0 116.2,501.9 116.7,500.8 117.1,499.8 117.6,498.8 118.1,497.8 118.6,496.8 119.0,495.9 119.5,495.0 120.0,494.0 120.5,493.2 121.0,492.3 121.4,491.4 121.9,490.6 122.4,489.7 122.9,488.9 123.3,488.1 123.8,487.4 124.3,486.6 124.8,485.8 125.2,485.1 125.7,484.4 126.2,483.7 126.7,483.0 127.2,482.3 127.6,481.6 128.1,480.9 128.6,480.3 129.1,479.6 129.5,479.0 130.0,478.4 130.5,477.8 131.0,477.2 131.4,476.6 131.9,476.0 132.4,475.4 132.9,474.8 133.4,474.3 133.8,473.7 134.3,473.2 134.8,472.6 135.3,472.1 135.7,471.6 136.2,471.1 136.7,470.6 137.2,470.1 137.6,469.6 138.1,469.1 138.6,468.6 139.1,468.1 139.6,467.7 140.0,467.2 140.5,466.7 141.0,466.3 141.5,465.8 141.9,465.4 142.4,465.0 142.9,464.5 143.4,464.1 143.9,463.7 144.3,463.3 144.8,462.9 145.3,462.5 145.8,462.1 146.2,461.7 146.7,461.3 147.2,460.9 147.7,460.5 148.1,460.2 148.6,459.8 149.1,459.4 149.6,459.0 150.1,458.7 150.5,458.3 151.0,458.0 151.5,457.6 152.0,457.3 152.4,456.9 152.9,456.6 153.4,456.3 153.9,455.9 154.3,455.6 154.8,455.3 155.3,455.0 155.8,454.6 156.3,454.3 156.7,454.0 157.2,453.7 157.7,453.4 158.2,453.1 158.6,452.8 159.1,452.5 159.6,452.2 160.1,451.9 160.5,451.6 161.0,451.3 161.5,451.0 162.0,450.8 162.5,450.5 162.9,450.2 163.4,449.9 163.9,449.7 164.4,449.4 164.8,449.1 165.3,448.9 165.8,448.6 166.3,448.3 166.8,448.1 167.2,447.8 167.7,447.6 168.2,447.3 168.7,447.1 169.1,446.8 169.6,446.6 170.1,446.3 170.6,446.1 171.0,445.9 171.5,445.6 172.0,445.4 172.5,445.2 173.0,444.9 173.4,444.7 173.9,444.5 174.4,444.3 174.9,444.0 175.3,443.8 175.8,443.6 176.3,443.4 176.8,443.2 177.2,443.0 177.7,442.8 178.2,442.5 178.7,442.3 179.2,442.1 179.6,441.9 180.1,441.7 180.6,441.5 181.1,441.3 181.5,441.1 182.0,440.9 182.5,440.7 183.0,440.5 183.5,440.4 183.9,440.2 184.4,440.0 184.9,439.8 185.4,439.6 185.8,439.4 186.3,439.2 186.8,439.1 187.3,438.9 187.7,438.7 188.2,438.5 188.7,438.4 189.2,438.2 189.7,438.0 190.1,437.9 190.6,437.7 191.1,437.5 191.6,437.3 192.0,437.2 192.5,437.0 193.0,436.9 193.5,436.7 193.9,436.5 194.4,436.4 194.9,436.2 195.4,436.1 195.9,435.9 196.3,435.8 196.8,435.6 197.3,435.5 197.8,435.3 198.2,435.2 198.7,435.0 199.2,434.9 199.7,434.7 200.1,434.6 200.6,434.4 201.1,434.3 201.6,434.2 202.1,434.0 202.5,433.9 203.0,433.7 203.5,433.6 204.0,433.5 204.4,433.3 204.9,433.2 205.4,433.1 205.9,432.9 206.4,432.8 206.8,432.7 207.3,432.5 207.8,432.4 208.3,432.3 208.7,432.2 209.2,432.0 209.7,431.9 210.2,431.8 210.6,431.7 211.1,431.5 211.6,431.4 212.1,431.3 212.6,431.2 213.0,431.1 213.5,431.0 214.0,430.8 214.5,430.7 214.9,430.6 215.4,430.5 215.9,430.4 216.4,430.3 216.8,430.2 217.3,430.1 217.8,429.9 218.3,429.8 218.8,429.7 219.2,429.6 219.7,429.5 220.2,429.4 220.7,429.3 221.1,429.2 221.6,429.1 222.1,429.0 222.6,428.9 223.0,428.8 223.5,428.7 224.0,428.6 224.5,428.5 225.0,428.4 225.4,428.3 225.9,428.2 226.4,428.1 226.9,428.0 227.3,427.9 227.8,427.8 228.3,427.7 228.8,427.7 229.3,427.6 229.7,427.5 230.2,427.4 230.7,427.3 231.2,427.2 231.6,427.1 232.1,427.0 232.6,426.9 233.1,426.9 233.5,426.8 234.0,426.7 234.5,426.6 235.0,426.5 235.5,426.4 235.9,426.4 236.4,426.3 236.9,426.2 237.4,426.1 237.8,426.0 238.3,426.0 238.8,425.9 239.3,425.8 239.7,425.7 240.2,425.6 240.7,425.6 241.2,425.5 241.7,425.4 242.1,425.3 242.6,425.3 243.1,425.2 243.6,425.1 244.0,425.0 244.5,425.0 245.0,424.9 245.5,424.8 246.0,424.8 246.4,424.7 246.9,424.6 247.4,424.6 247.9,424.5 248.3,424.4 248.8,424.3 249.3,424.3 249.8,424.2 250.2,424.1 250.7,424.1 251.2,424.0 251.7,424.0 252.2,423.9 252.6,423.8 253.1,423.8 253.6,423.7 254.1,423.6 254.5,423.6 255.0,423.5 255.5,423.5 256.0,423.4 256.4,423.3 256.9,423.3 257.4,423.2 257.9,423.2 258.4,423.1 258.8,423.0 259.3,423.0 259.8,422.9 260.3,422.9 260.7,422.8 261.2,422.8 261.7,422.7 262.2,422.7 262.6,422.6 263.1,422.5 263.6,422.5 264.1,422.4 264.6,422.4 265.0,422.3 265.5,422.3 266.0,422.2 266.5,422.2 266.9,422.1 267.4,422.1 267.9,422.0 268.4,422.0 268.9,421.9 269.3,421.9 269.8,421.8 270.3,421.8 270.8,421.7 271.2,421.7 271.7,421.6 272.2,421.6 272.7,421.6 273.1,421.5 273.6,421.5 274.1,421.4 274.6,421.4 275.1,421.3 275.5,421.3 276.0,421.2 276.5,421.2 277.0,421.2 277.4,421.1 277.9,421.1 278.4,421.0 278.9,421.0 279.3,420.9 279.8,420.9 280.3,420.9 280.8,420.8 281.3,420.8 281.7,420.7 282.2,420.7 282.7,420.7 283.2,420.6 283.6,420.6 284.1,420.6 284.6,420.5 285.1,420.5 285.5,420.4 286.0,420.4 286.5,420.4 287.0,420.3 287.5,420.3 287.9,420.3 288.4,420.2 288.9,420.2 289.4,420.2 289.8,420.1 290.3,420.1 290.8,420.1 291.3,420.0 291.8,420.0 292.2,420.0 292.7,419.9 293.2,419.9 293.7,419.9 294.1,419.8 294.6,419.8 295.1,419.8 295.6,419.7 296.0,419.7 296.5,419.7 297.0,419.6 297.5,419.6 298.0,419.6 298.4,419.6 298.9,419.5 299.4,419.5 299.9,419.5 300.3,419.4 300.8,419.4 301.3,419.4 301.8,419.4 302.2,419.3 302.7,419.3 303.2,419.3 303.7,419.3 304.2,419.2 304.6,419.2 305.1,419.2 305.6,419.1 306.1,419.1 306.5,419.1 307.0,419.1 307.5,419.0 308.0,419.0 308.4,419.0 308.9,419.0 309.4,418.9 309.9,418.9 310.4,418.9 310.8,418.9 311.3,418.8 311.8,418.8 312.3,418.8 312.7,418.8 313.2,418.8 313.7,418.7 314.2,418.7 314.7,418.7 315.1,418.7 315.6,418.6 316.1,418.6 316.6,418.6 317.0,418.6 317.5,418.6 318.0,418.5 318.5,418.5 318.9,418.5 319.4,418.5 319.9,418.5 320.4,418.4 320.9,418.4 321.3,418.4 321.8,418.4 322.3,418.4 322.8,418.3 323.2,418.3 323.7,418.3 324.2,418.3 324.7,418.3 325.1,418.2 325.6,418.2 326.1,418.2 326.6,418.2 327.1,418.2 327.5,418.1 328.0,418.1 328.5,418.1 329.0,418.1 329.4,418.1 329.9,418.1 330.4,418.0 330.9,418.0 331.4,418.0 331.8,418.0 332.3,418.0 332.8,418.0 333.3,417.9 333.7,417.9 334.2,417.9 334.7,417.9 335.2,417.9 335.6,417.9 336.1,417.8 336.6,417.8 337.1,417.8 337.6,417.8 338.0,417.8 338.5,417.8 339.0,417.7 339.5,417.7 339.9,417.7 340.4,417.7 340.9,417.7 341.4,417.7 341.8,417.7 342.3,417.6 342.8,417.6 343.3,417.6 343.8,417.6 344.2,417.6 344.7,417.6 345.2,417.6 345.7,417.5 346.1,417.5 346.6,417.5 347.1,417.5 347.6,417.5 348.0,417.5 348.5,417.5 349.0,417.5 349.5,417.4 350.0,417.4 350.4,417.4 350.9,417.4 351.4,417.4 351.9,417.4 352.3,417.4 352.8,417.4 353.3,417.3 353.8,417.3 354.3,417.3 354.7,417.3 355.2,417.3 355.7,417.3 356.2,417.3 356.6,417.3 357.1,417.2 357.6,417.2 358.1,417.2 358.5,417.2 359.0,417.2 359.5,417.2 360.0,417.2 360.5,417.2 360.9,417.2 361.4,417.1 361.9,417.1 362.4,417.1 362.8,417.1 363.3,417.1 363.8,417.1 364.3,417.1 364.7,417.1 365.2,417.1 365.7,417.1 366.2,417.0 366.7,417.0 367.1,417.0 367.6,417.0 368.1,417.0 368.6,417.0 369.0,417.0 369.5,417.0 370.0,417.0 370.5,417.0 370.9,416.9 371.4,416.9 371.9,416.9 372.4,416.9 372.9,416.9 373.3,416.9 373.8,416.9 374.3,416.9 374.8,416.9 375.2,416.9 375.7,416.8 376.2,416.8 376.7,416.8 377.2,416.8 377.6,416.8 378.1,416.8 378.6,416.8 379.1,416.8 379.5,416.8 380.0,416.8 380.5,416.8 381.0,416.8 381.4,416.7 381.9,416.7 382.4,416.7 382.9,416.7 383.4,416.7 383.8,416.7 384.3,416.7 384.8,416.7 385.3,416.7 385.7,416.7 386.2,416.7 386.7,416.7 387.2,416.6 387.6,416.6 388.1,416.6 388.6,416.6 389.1,416.6 389.6,416.6 390.0,416.6 390.5,416.6 391.0,416.6 391.5,416.6 391.9,416.6 392.4,416.6 392.9,416.6 393.4,416.5 393.9,416.5 394.3,416.5 394.8,416.5 395.3,416.5 395.8,416.5 396.2,416.5 396.7,416.5 397.2,416.5 397.7,416.5 398.1,416.5 398.6,416.5 399.1,416.5 399.6,416.5 400.1,416.5 400.5,416.4 401.0,416.4 401.5,416.4 402.0,416.4 402.4,416.4 402.9,416.4 403.4,416.4 403.9,416.4 404.3,416.4 404.8,416.4 405.3,416.4 405.8,416.4 406.3,416.4 406.7,416.4 407.2,416.4 407.7,416.3 408.2,416.3 408.6,416.3 409.1,416.3 409.6,416.3 410.1,416.3 410.5,416.3 411.0,416.3 411.5,416.3 412.0,416.3 412.5,416.3 412.9,416.3 413.4,416.3 413.9,416.3 414.4,416.3 414.8,416.3 415.3,416.2 415.8,416.2 416.3,416.2 416.8,416.2 417.2,416.2 417.7,416.2 418.2,416.2 418.7,416.2 419.1,416.2 419.6,416.2 420.1,416.2 420.6,416.2 421.0,416.2 421.5,416.2 422.0,416.2 422.5,416.2 423.0,416.2 423.4,416.1 423.9,416.1 424.4,416.1 424.9,416.1 425.3,416.1 425.8,416.1 426.3,416.1 426.8,416.1 427.2,416.1 427.7,416.1 428.2,416.1 428.7,416.1 429.2,416.1 429.6,416.1 430.1,416.1 430.6,416.1 431.1,416.1 431.5,416.1 432.0,416.0 432.5,416.0 433.0,416.0 433.4,416.0 433.9,416.0 434.4,416.0 434.9,416.0 435.4,416.0 435.8,416.0 436.3,416.0 436.8,416.0 437.3,416.0 437.7,416.0 438.2,416.0 438.7,416.0 439.2,416.0 439.7,416.0 440.1,416.0 440.6,416.0 441.1,415.9 441.6,415.9 442.0,415.9 442.5,415.9 443.0,415.9 443.5,415.9 443.9,415.9 444.4,415.9 444.9,415.9 445.4,415.9 445.9,415.9 446.3,415.9 446.8,415.9 447.3,415.9 447.8,415.9 448.2,415.9 448.7,415.9 449.2,415.9 449.7,415.9 450.1,415.8 450.6,415.8 451.1,415.8 451.6,415.8 452.1,415.8 452.5,415.8 453.0,415.8 453.5,415.8 454.0,415.8 454.4,415.8 454.9,415.8 455.4,415.8 455.9,415.8 456.3,415.8 456.8,415.8 457.3,415.8 457.8,415.8 458.3,415.8 458.7,415.8 459.2,415.8 459.7,415.7 460.2,415.7 460.6,415.7 461.1,415.7 461.6,415.7 462.1,415.7 462.6,415.7 463.0,415.7 463.5,415.7 464.0,415.7 464.5,415.7 464.9,415.7 465.4,415.7 465.9,415.7 466.4,415.7 466.8,415.7 467.3,415.7 467.8,415.7" fill="none" stroke="#000" stroke-width="3.6" stroke-linejoin="round"/>
<polyline points="65.0,435.2 66.3,435.2 67.7,435.2 69.0,435.2 70.4,435.2 71.7,435.2 73.1,435.2 74.4,435.2 75.8,435.2 77.1,435.2 78.5,435.2 79.8,435.2 81.2,435.2 82.5,435.2 83.9,435.2 85.2,435.2 86.6,435.2 87.9,435.2 89.2,435.2 90.6,435.2 91.9,435.2 93.3,435.2 94.6,435.2 96.0,435.2 97.3,435.2 98.7,435.2 100.0,435.2 101.4,435.1 102.7,435.1 104.1,435.1 105.4,435.0 106.8,434.9 108.1,434.8 109.5,434.7 110.8,434.5 112.2,434.4 113.5,434.2 114.8,434.0 116.2,433.8 117.5,433.6 118.9,433.4 120.2,433.2 121.6,433.0 122.9,432.8 124.3,432.6 125.6,432.4 127.0,432.1 128.3,431.9 129.7,431.7 131.0,431.5 132.4,431.3 133.7,431.1 135.1,430.9 136.4,430.7 137.7,430.5 139.1,430.3 140.4,430.1 141.8,430.0 143.1,429.8 144.5,429.6 145.8,429.4 147.2,429.3 148.5,429.1 149.9,428.9 151.2,428.8 152.6,428.6 153.9,428.4 155.3,428.3 156.6,428.1 158.0,428.0 159.3,427.8 160.6,427.6 162.0,427.4 163.3,427.3 164.7,427.1 166.0,426.9 167.4,426.7 168.7,426.6 170.1,426.4 171.4,426.2 172.8,426.0 174.1,425.8 175.5,425.7 176.8,425.5 178.2,425.3 179.5,425.2 180.9,425.0 182.2,424.8 183.5,424.7 184.9,424.5 186.2,424.4 187.6,424.2 188.9,424.0 190.3,423.9 191.6,423.7 193.0,423.6 194.3,423.4 195.7,423.3 197.0,423.2 198.4,423.0 199.7,422.9 201.1,422.7 202.4,422.6 203.8,422.5 205.1,422.3 206.5,422.2 207.8,422.1 209.1,422.0 210.5,421.8 211.8,421.7 213.2,421.6 214.5,421.5 215.9,421.4 217.2,421.2 218.6,421.1 219.9,421.0 221.3,420.9 222.6,420.8 224.0,420.7 225.3,420.6 226.7,420.5 228.0,420.4 229.4,420.3 230.7,420.2 232.0,420.1 233.4,420.0 234.7,419.9 236.1,419.9 237.4,419.8 238.8,419.7 240.1,419.6 241.5,419.5 242.8,419.4 244.2,419.3 245.5,419.3 246.9,419.2 248.2,419.1 249.6,419.0 250.9,418.9 252.3,418.9 253.6,418.8 254.9,418.7 256.3,418.6 257.6,418.5 259.0,418.5 260.3,418.4 261.7,418.3 263.0,418.2 264.4,418.1 265.7,418.1 267.1,418.0 268.4,417.9 269.8,417.8 271.1,417.7 272.5,417.7 273.8,417.6 275.2,417.5 276.5,417.4 277.9,417.4 279.2,417.3 280.5,417.2 281.9,417.1 283.2,417.0 284.6,417.0 285.9,416.9 287.3,416.8 288.6,416.7 290.0,416.7 291.3,416.6 292.7,416.5 294.0,416.4 295.4,416.4 296.7,416.3 298.1,416.2 299.4,416.1 300.8,416.1 302.1,416.0 303.4,415.9 304.8,415.9 306.1,415.8 307.5,415.7 308.8,415.7 310.2,415.6 311.5,415.5 312.9,415.5 314.2,415.4 315.6,415.3 316.9,415.3 318.3,415.2 319.6,415.1 321.0,415.1 322.3,415.0 323.7,415.0 325.0,414.9 326.3,414.9 327.7,414.8 329.0,414.8 330.4,414.7 331.7,414.7 333.1,414.6 334.4,414.6 335.8,414.6 337.1,414.5 338.5,414.5 339.8,414.5 341.2,414.4 342.5,414.4 343.9,414.4 345.2,414.3 346.6,414.3 347.9,414.3 349.3,414.3 350.6,414.3 351.9,414.2 353.3,414.2 354.6,414.2 356.0,414.2 357.3,414.1 358.7,414.1 360.0,414.1 361.4,414.1 362.7,414.1 364.1,414.0 365.4,414.0 366.8,414.0 368.1,414.0 369.5,414.0 370.8,413.9 372.2,413.9 373.5,413.9 374.8,413.9 376.2,413.9 377.5,413.8 378.9,413.8 380.2,413.8 381.6,413.8 382.9,413.8 384.3,413.8 385.6,413.7 387.0,413.7 388.3,413.7 389.7,413.7 391.0,413.7 392.4,413.7 393.7,413.7 395.1,413.7 396.4,413.6 397.7,413.6 399.1,413.6 400.4,413.6 401.8,413.6 403.1,413.6 404.5,413.6 405.8,413.6 407.2,413.6 408.5,413.6 409.9,413.6 411.2,413.5 412.6,413.5 413.9,413.5 415.3,413.5 416.6,413.5 418.0,413.5 419.3,413.5 420.6,413.5 422.0,413.5 423.3,413.5 424.7,413.5 426.0,413.5 427.4,413.5 428.7,413.5 430.1,413.4 431.4,413.4 432.8,413.4 434.1,413.4 435.5,413.4 436.8,413.4 438.2,413.4 439.5,413.4 440.9,413.4 442.2,413.4 443.6,413.4 444.9,413.4 446.2,413.4 447.6,413.4 448.9,413.4 450.3,413.4 451.6,413.4 453.0,413.3 454.3,413.3 455.7,413.3 457.0,413.3 458.4,413.3 459.7,413.3 461.1,413.3 462.4,413.3 463.8,413.3 465.1,413.3 466.5,413.3 467.8,413.3" fill="none" stroke="#0a0af0" stroke-width="3.5" stroke-linejoin="round"/>
<line x1="86.5" y1="669.6" x2="467.8" y2="669.6" stroke="#000" stroke-width="2.4" stroke-dasharray="10.6 9.98"/>
</g>
<line x1="450.8" y1="425.8" x2="450.8" y2="662" stroke="#000" stroke-width="2.1" stroke-dasharray="5.6 4.4"/>
<path d="M450.8,417.8 L447,429 L454.6,429 Z" fill="#000"/>
<path d="M450.8,670.4 L447.2,659 L454.4,659 Z" fill="#000"/>
<rect x="65.0" y="391.4" width="402.8" height="299.9" fill="none" stroke="#000" stroke-width="3.3"/>
<path d="M65.0,691.3v-3.5M87.4,691.3v-6.5M109.8,691.3v-3.5M132.1,691.3v-6.5M154.5,691.3v-3.5M176.9,691.3v-6.5M199.3,691.3v-3.5M221.6,691.3v-6.5M244.0,691.3v-3.5M266.4,691.3v-6.5M288.8,691.3v-3.5M311.2,691.3v-6.5M333.5,691.3v-3.5M355.9,691.3v-6.5M378.3,691.3v-3.5M400.7,691.3v-6.5M423.0,691.3v-3.5M445.4,691.3v-6.5M467.8,691.3v-3.5M65.0,691.3h6.5M65.0,681.8h3.5M65.0,676.2h3.5M65.0,672.2h3.5M65.0,669.2h3.5M65.0,666.7h3.5M65.0,664.6h3.5M65.0,662.7h3.5M65.0,661.1h3.5M65.0,659.7h6.5M65.0,650.1h3.5M65.0,644.6h3.5M65.0,640.6h3.5M65.0,637.5h3.5M65.0,635.0h3.5M65.0,632.9h3.5M65.0,631.1h3.5M65.0,629.5h3.5M65.0,628.0h6.5M65.0,618.5h3.5M65.0,612.9h3.5M65.0,609.0h3.5M65.0,605.9h3.5M65.0,603.4h3.5M65.0,601.3h3.5M65.0,599.4h3.5M65.0,597.8h3.5M65.0,596.4h6.5M65.0,586.8h3.5M65.0,581.3h3.5M65.0,577.3h3.5M65.0,574.2h3.5M65.0,571.7h3.5M65.0,569.6h3.5M65.0,567.8h3.5M65.0,566.2h3.5M65.0,564.7h6.5M65.0,555.2h3.5M65.0,549.6h3.5M65.0,545.7h3.5M65.0,542.6h3.5M65.0,540.1h3.5M65.0,538.0h3.5M65.0,536.1h3.5M65.0,534.5h3.5M65.0,533.1h6.5M65.0,523.6h3.5M65.0,518.0h3.5M65.0,514.0h3.5M65.0,511.0h3.5M65.0,508.5h3.5M65.0,506.3h3.5M65.0,504.5h3.5M65.0,502.9h3.5M65.0,501.4h6.5M65.0,491.9h3.5M65.0,486.3h3.5M65.0,482.4h3.5M65.0,479.3h3.5M65.0,476.8h3.5M65.0,474.7h3.5M65.0,472.9h3.5M65.0,471.2h3.5M65.0,469.8h6.5M65.0,460.3h3.5M65.0,454.7h3.5M65.0,450.7h3.5M65.0,447.7h3.5M65.0,445.2h3.5M65.0,443.0h3.5M65.0,441.2h3.5M65.0,439.6h3.5M65.0,438.1h6.5M65.0,428.6h3.5M65.0,423.0h3.5M65.0,419.1h3.5M65.0,416.0h3.5M65.0,413.5h3.5M65.0,411.4h3.5M65.0,409.6h3.5M65.0,407.9h3.5M65.0,406.5h6.5M65.0,397.0h3.5M65.0,391.4h3.5" stroke="#000" stroke-width="2.8" fill="none"/>
<text x="58.6" y="697.5" text-anchor="end" style="font-family:'Liberation Serif','Times New Roman',serif;font-weight:bold;font-size:17.5px">10<tspan dy="-8.9" font-size="11px">-6</tspan></text>
<text x="58.6" y="665.9" text-anchor="end" style="font-family:'Liberation Serif','Times New Roman',serif;font-weight:bold;font-size:17.5px">10<tspan dy="-8.9" font-size="11px">-5</tspan></text>
<text x="58.6" y="634.2" text-anchor="end" style="font-family:'Liberation Serif','Times New Roman',serif;font-weight:bold;font-size:17.5px">10<tspan dy="-8.9" font-size="11px">-4</tspan></text>
<text x="58.6" y="602.6" text-anchor="end" style="font-family:'Liberation Serif','Times New Roman',serif;font-weight:bold;font-size:17.5px">10<tspan dy="-8.9" font-size="11px">-3</tspan></text>
<text x="58.6" y="570.9" text-anchor="end" style="font-family:'Liberation Serif','Times New Roman',serif;font-weight:bold;font-size:17.5px">10<tspan dy="-8.9" font-size="11px">-2</tspan></text>
<text x="58.6" y="539.3" text-anchor="end" style="font-family:'Liberation Serif','Times New Roman',serif;font-weight:bold;font-size:17.5px">10<tspan dy="-8.9" font-size="11px">-1</tspan></text>
<text x="58.6" y="507.6" text-anchor="end" style="font-family:'Liberation Serif','Times New Roman',serif;font-weight:bold;font-size:17.5px">10<tspan dy="-8.9" font-size="11px">0</tspan></text>
<text x="58.6" y="476.0" text-anchor="end" style="font-family:'Liberation Serif','Times New Roman',serif;font-weight:bold;font-size:17.5px">10<tspan dy="-8.9" font-size="11px">1</tspan></text>
<text x="58.6" y="444.3" text-anchor="end" style="font-family:'Liberation Serif','Times New Roman',serif;font-weight:bold;font-size:17.5px">10<tspan dy="-8.9" font-size="11px">2</tspan></text>
<text x="58.6" y="412.7" text-anchor="end" style="font-family:'Liberation Serif','Times New Roman',serif;font-weight:bold;font-size:17.5px">10<tspan dy="-8.9" font-size="11px">3</tspan></text>
<text x="87.4" y="711.9" text-anchor="middle" style="font-family:'Liberation Serif','Times New Roman',serif;font-weight:bold;font-size:18px">-14</text>
<text x="132.1" y="711.9" text-anchor="middle" style="font-family:'Liberation Serif','Times New Roman',serif;font-weight:bold;font-size:18px">-12</text>
<text x="176.9" y="711.9" text-anchor="middle" style="font-family:'Liberation Serif','Times New Roman',serif;font-weight:bold;font-size:18px">-10</text>
<text x="221.6" y="711.9" text-anchor="middle" style="font-family:'Liberation Serif','Times New Roman',serif;font-weight:bold;font-size:18px">-8</text>
<text x="266.4" y="711.9" text-anchor="middle" style="font-family:'Liberation Serif','Times New Roman',serif;font-weight:bold;font-size:18px">-6</text>
<text x="311.2" y="711.9" text-anchor="middle" style="font-family:'Liberation Serif','Times New Roman',serif;font-weight:bold;font-size:18px">-4</text>
<text x="355.9" y="711.9" text-anchor="middle" style="font-family:'Liberation Serif','Times New Roman',serif;font-weight:bold;font-size:18px">-2</text>
<text x="400.7" y="711.9" text-anchor="middle" style="font-family:'Liberation Serif','Times New Roman',serif;font-weight:bold;font-size:18px">0</text>
<text x="445.4" y="711.9" text-anchor="middle" style="font-family:'Liberation Serif','Times New Roman',serif;font-weight:bold;font-size:18px">2</text>
<text x="77.8" y="414.5" style="font-family:'Liberation Serif','Times New Roman',serif;font-weight:bold;font-size:20px">(b)</text>
<text x="240.2" y="739.8" style="font-family:'Liberation Serif','Times New Roman',serif;font-weight:bold;font-size:20.5px"><tspan font-style="italic">V</tspan><tspan font-size="12.2px" dy="7.0">GS</tspan><tspan dy="-7.0"> (V)</tspan></text>
<text transform="translate(15.9,598.6) rotate(-90)" style="font-family:'Liberation Serif','Times New Roman',serif;font-weight:bold;font-size:20.5px"><tspan font-style="italic">I</tspan><tspan font-size="13px" dy="5">DS</tspan><tspan dy="-5"> (mA/mm)</tspan></text>
<line x1="295.8" y1="440" x2="332.3" y2="440" stroke="#0a0af0" stroke-width="3.4"/>
<line x1="295.8" y1="464.8" x2="332.3" y2="464.8" stroke="#000" stroke-width="3.4"/>
<text x="337.2" y="446" style="font-family:'Liberation Serif','Times New Roman',serif;font-weight:bold;font-size:19.45px">Sample S1</text>
<text x="337.2" y="469.6" style="font-family:'Liberation Serif','Times New Roman',serif;font-weight:bold;font-size:19.45px">Sample S2</text>
<text y="507.6" style="font-family:'Liberation Serif','Times New Roman',serif;font-weight:bold;font-size:20.5px"><tspan x="299.6" font-style="italic">I</tspan><tspan x="307.6" dy="7.2" font-size="13px">on</tspan><tspan x="319.8" dy="-7.2">/</tspan><tspan font-style="italic">I</tspan><tspan dy="7.2" font-size="13px">off</tspan><tspan dy="-7.2">~</tspan><tspan x="366.3">0.96×10</tspan><tspan dy="-9.5" font-size="13px">8</tspan></text>
<text y="538.2" style="font-family:'Liberation Serif','Times New Roman',serif;font-weight:bold;font-size:20.5px"><tspan x="298.6" font-style="italic">V</tspan><tspan x="311.8" dy="7.8" font-size="13px">DS</tspan><tspan x="332.6" dy="-7.8">= 10V</tspan></text>
</svg>
</body></html>
